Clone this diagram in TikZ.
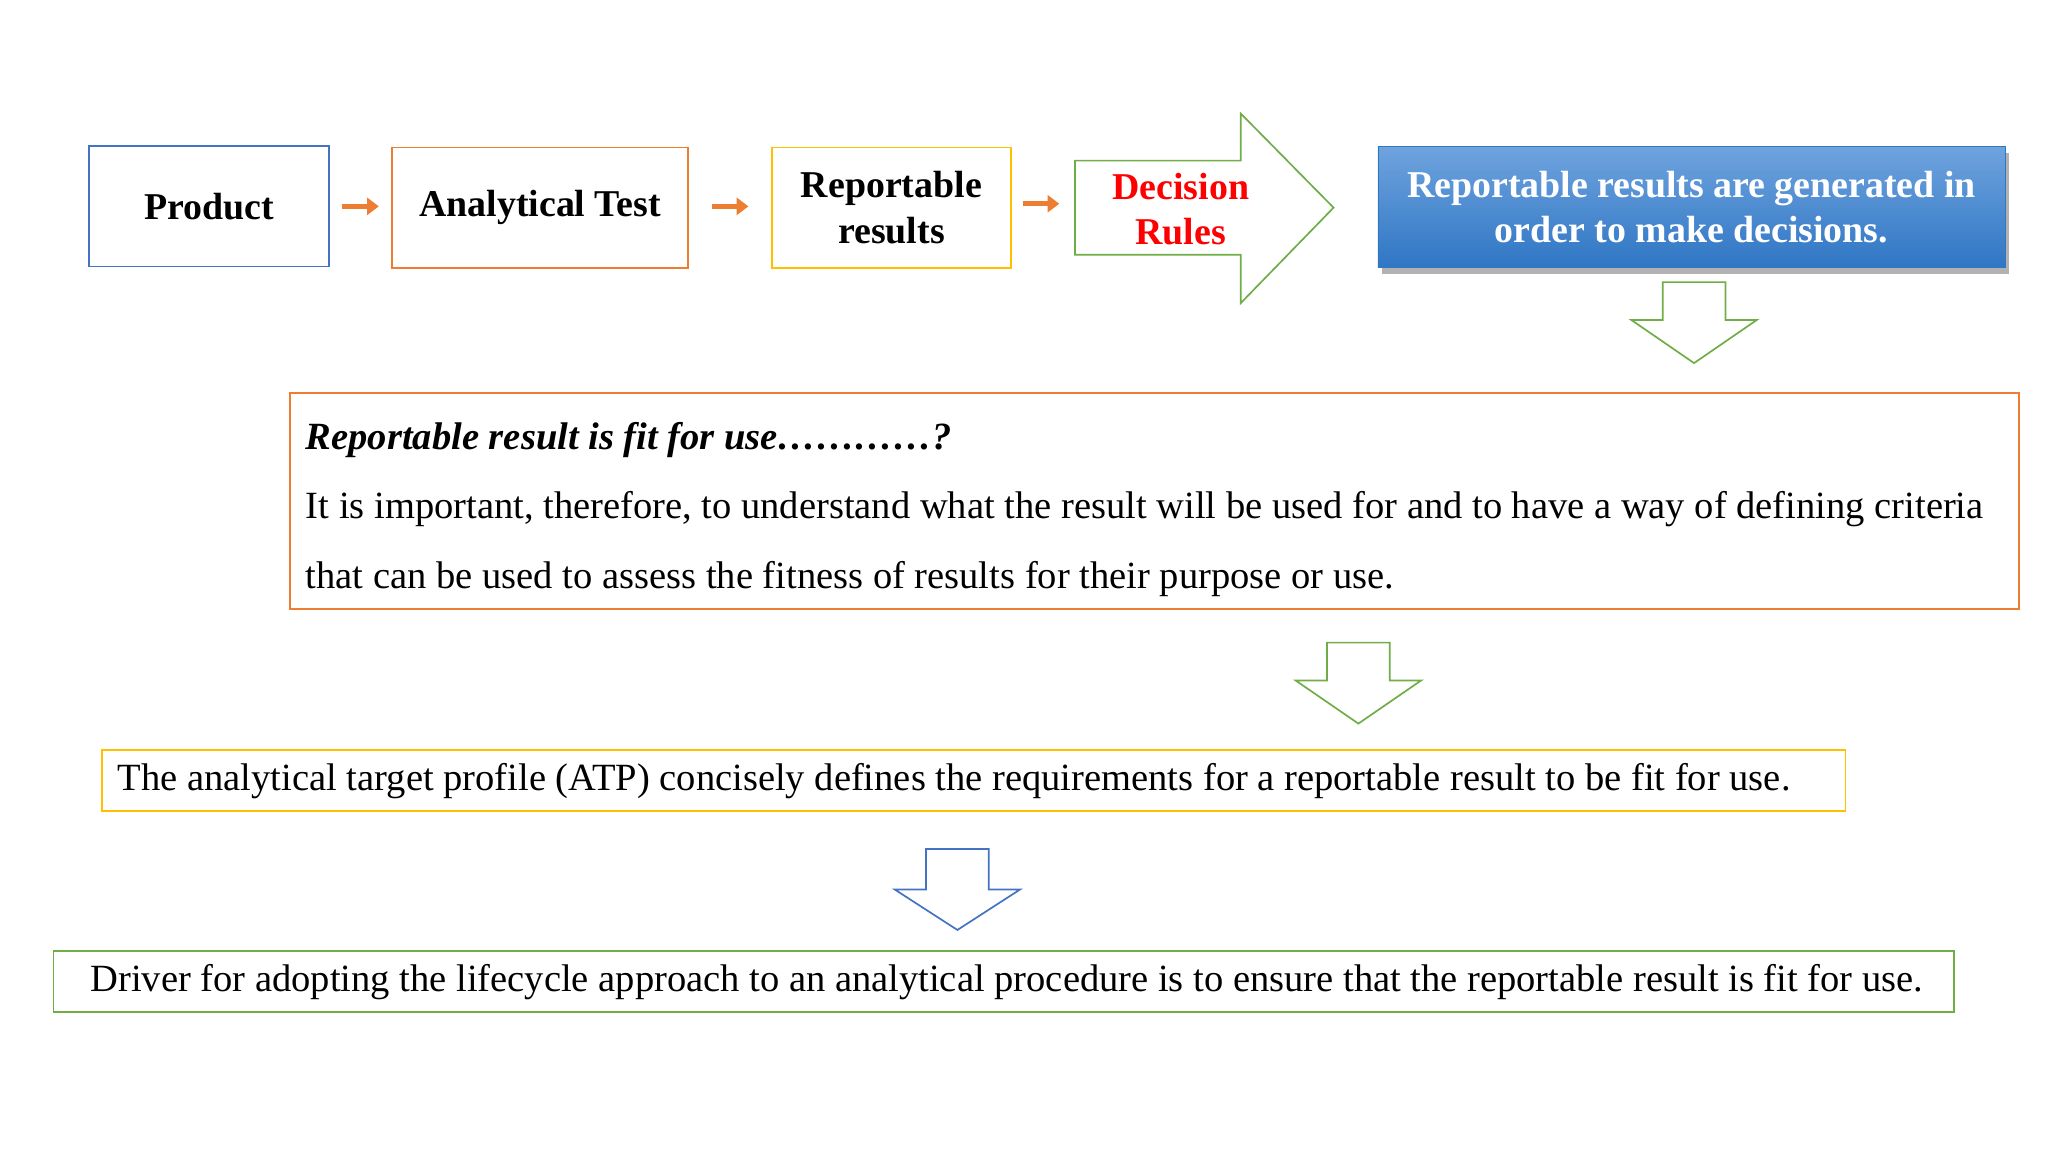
\documentclass[tikz,border=0pt]{standalone}
\usepackage{fontspec}
\usetikzlibrary{arrows.meta}
\setmainfont{Liberation Serif}
\definecolor{cblue}{HTML}{4472C4}
\definecolor{corange}{HTML}{ED7D31}
\definecolor{cyellow}{HTML}{FFC000}
\definecolor{cgreen}{HTML}{70AD47}
\definecolor{bluetop}{HTML}{6FA3DE}
\definecolor{bluebot}{HTML}{2F76C4}
\begin{document}
\begin{tikzpicture}[x=1pt,y=-1pt,
  box/.style={draw,line width=1.3pt,inner sep=0pt},
  small/.style={-{Triangle[length=9pt,width=13pt]},line width=4pt,corange,shorten <=0pt},
  big/.style={font=\fontsize{29}{35}\selectfont\bfseries},
  txt/.style={font=\fontsize{29.5}{35}\selectfont,inner sep=0pt}]
\useasboundingbox (0,0) rectangle (1568,882);
\node[box,cblue,minimum width=184pt,minimum height=92pt,text=black,big] (p) at (160,158) {Product};
\node[box,corange,minimum width=227pt,minimum height=92pt,text=black,big] (a) at (413.5,159) {Analytical Test};
\node[box,cyellow,minimum width=183pt,minimum height=92pt,text=black,big,align=center] (r) at (682.5,159) {Reportable\\results};
\draw[cgreen,line width=1.3pt] (823,123) -- (950,123) -- (950,87) -- (1021,159) -- (950,232) -- (950,195) -- (823,195) -- cycle;
\node[text=red,big,align=center] (d) at (904,160) {Decision\\Rules};
\fill[gray!60] (1058,117) rectangle (1538,210);
\node[top color=bluetop,bottom color=bluebot,draw=bluebot,minimum width=480pt,minimum height=93pt,text=white,big,align=center,inner sep=0pt] (g) at (1295,158.5) {Reportable results are generated in\\order to make decisions.};
\draw[small] (262,158) -- (290,158);
\draw[small] (545,158) -- (573,158);
\draw[small] (783,156) -- (811,156);
\node[box,corange,minimum width=1324pt,minimum height=165pt] (f) at (884,383.5) {};
\node[anchor=west,txt,font=\fontsize{29.5}{35}\selectfont\bfseries\itshape] (f1) at (234,337) {Reportable result is fit for use…………?};
\node[anchor=west,txt] (f2) at (234,390) {It is important, therefore, to understand what the result will be used for and to have a way of defining criteria};
\node[anchor=west,txt] (f3) at (234,443) {that can be used to assess the fitness of results for their purpose or use.};
\node[box,cyellow,minimum width=1335pt,minimum height=47pt] (y) at (745.5,597.5) {};
\node[anchor=west,txt] (y1) at (90,598) {The analytical target profile (ATP) concisely defines the requirements for a reportable result to be fit for use.};
\node[box,cgreen,minimum width=1455pt,minimum height=47pt] (gb) at (768.5,751.5) {};
\node[anchor=west,txt] (g1) at (69,752) {Driver for adopting the lifecycle approach to an analytical procedure is to ensure that the reportable result is fit for use.};
\foreach \cx/\ty/\sy/\tip/\col in {1297/216/245/278/cgreen,1040/492/521/554/cgreen,733/650/681/712/cblue}
  \draw[\col,line width=1.3pt] (\cx-24,\ty) -- (\cx+24,\ty) -- (\cx+24,\sy) -- (\cx+48,\sy) -- (\cx,\tip) -- (\cx-48,\sy) -- (\cx-24,\sy) -- cycle;
\end{tikzpicture}
\end{document}
